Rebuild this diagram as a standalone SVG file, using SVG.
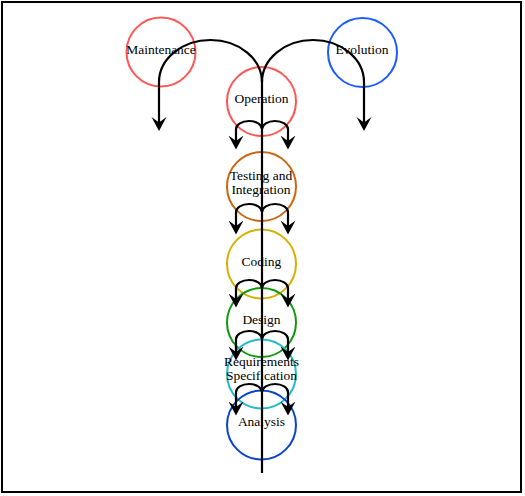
<svg xmlns="http://www.w3.org/2000/svg" width="525" height="496" viewBox="0 0 525 496">
<style>
.node circle{fill:none;stroke-width:2}
.node text{font-family:"Liberation Serif","Times New Roman",serif;font-size:13.5px;fill:#000;text-anchor:middle}
.conn path{fill:none;stroke:#000;stroke-width:2.2}
</style>
<defs>
<marker id="ah" viewBox="0 -8 15 16" refX="6" refY="0" markerWidth="15" markerHeight="16" markerUnits="userSpaceOnUse" orient="auto">
<path d="M0,-7.5 L14,0 L0,7.5 L5.5,0 Z" fill="#000"/>
</marker>
</defs>
<rect x="2" y="2" width="519" height="490" fill="#fff" stroke="#000" stroke-width="2"/>
<g id="maintenance" class="node"><circle cx="161" cy="52" r="34.5" stroke="#ff5555"/><text x="161" y="53.5">Maintenance</text></g>
<g id="evolution" class="node"><circle cx="362.5" cy="52.5" r="34.5" stroke="#1a5cff"/><text x="362" y="53.5">Evolution</text></g>
<g id="operation" class="node"><circle cx="261.5" cy="101.5" r="34.5" stroke="#ff5555"/><text x="261.5" y="103">Operation</text></g>
<g id="testing" class="node"><circle cx="261.5" cy="186.5" r="34.5" stroke="#cc6611"/><text x="261" y="180">Testing and</text><text x="261" y="193.5">Integration</text></g>
<g id="coding" class="node"><circle cx="261.5" cy="264" r="34.5" stroke="#d4b000"/><text x="261.5" y="265.5">Coding</text></g>
<g id="design" class="node"><circle cx="261.5" cy="322.5" r="34.5" stroke="#119911"/><text x="261.5" y="323.5">Design</text></g>
<g id="requirements" class="node"><circle cx="261.5" cy="374" r="34.5" stroke="#22bbcc"/><text x="261.5" y="366">Requirements</text><text x="261.5" y="379.5">Specification</text></g>
<g id="analysis" class="node"><circle cx="261.5" cy="425" r="34.5" stroke="#0a44cc"/><text x="261.5" y="425.5">Analysis</text></g>
<g id="connectors" class="conn">
<path d="M262,80 L262,473"/>
<path d="M262,82 A51.5,42 0 0 0 159,82 L159,123" marker-end="url(#ah)"/>
<path d="M262,82 A51,42 0 0 1 364,82 L364,123" marker-end="url(#ah)"/>
<path d="M262,129 A13,8 0 0 0 236,129 L236,141.5" marker-end="url(#ah)"/>
<path d="M262,129 A13,8 0 0 1 288,129 L288,141.5" marker-end="url(#ah)"/>
<path d="M262,212 A13,8 0 0 0 236,212 L236,226.5" marker-end="url(#ah)"/>
<path d="M262,212 A13,8 0 0 1 288,212 L288,226.5" marker-end="url(#ah)"/>
<path d="M262,288 A13,8 0 0 0 236,288 L236,299.5" marker-end="url(#ah)"/>
<path d="M262,288 A13,8 0 0 1 288,288 L288,299.5" marker-end="url(#ah)"/>
<path d="M262,339 A13,8 0 0 0 236,339 L236,352.5" marker-end="url(#ah)"/>
<path d="M262,339 A13,8 0 0 1 288,339 L288,352.5" marker-end="url(#ah)"/>
<path d="M262,392 A13,8 0 0 0 236,392 L236,407.5" marker-end="url(#ah)"/>
<path d="M262,392 A13,8 0 0 1 288,392 L288,407.5" marker-end="url(#ah)"/>
</g>
</svg>
